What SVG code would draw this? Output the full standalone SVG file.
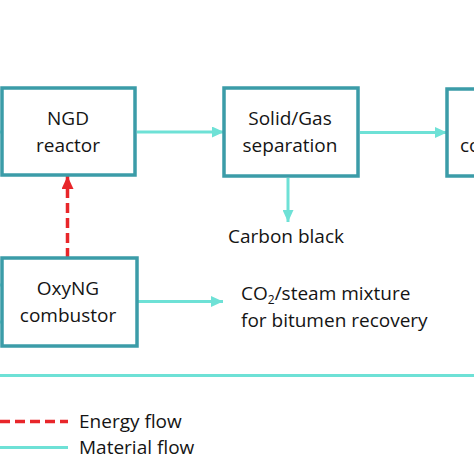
<svg xmlns="http://www.w3.org/2000/svg" width="474" height="474" viewBox="0 0 474 474">
<style>
.box{fill:#ffffff;stroke:#3b9ca8;stroke-width:3.5}
.mat{stroke:#6ee1d6;stroke-width:3;fill:none}
.eng{stroke:#e8262a;stroke-width:3.5;fill:none;stroke-dasharray:10 5}
text{font-family:"Open Sans","Noto Sans",sans-serif;font-size:19px;fill:#141414}
.c{text-anchor:middle}
</style>
<defs>
<marker id="am" markerUnits="userSpaceOnUse" markerWidth="12" markerHeight="11" refX="12" refY="5.5" orient="auto"><path d="M0,0 L12,5.5 L0,11 Z" fill="#6ee1d6"/></marker>
<marker id="ae" markerUnits="userSpaceOnUse" markerWidth="13" markerHeight="12" refX="13" refY="6" orient="auto"><path d="M0,0 L13,6 L0,12 Z" fill="#e8262a"/></marker>
</defs>
<rect width="474" height="474" fill="#ffffff"/>
<g id="connectors">
<line class="mat" x1="-6" y1="132" x2="2" y2="132"/>
<line class="mat" x1="-6" y1="285" x2="2" y2="285"/>
<line class="mat" x1="-6" y1="322" x2="2" y2="322"/>
<line class="mat" x1="137" y1="132" x2="224" y2="132" marker-end="url(#am)"/>
<line class="mat" x1="360" y1="132.5" x2="447" y2="132.5" marker-end="url(#am)"/>
<line class="mat" x1="288" y1="178" x2="288" y2="222" marker-end="url(#am)"/>
<line class="mat" x1="137" y1="301.5" x2="223" y2="301.5" marker-end="url(#am)"/>
<line class="eng" x1="67.5" y1="258" x2="67.5" y2="176" marker-end="url(#ae)"/>
<line class="mat" x1="0" y1="375.5" x2="474" y2="375.5"/>
</g>
<g id="ngd">
<rect class="box" x="2" y="88" width="133" height="87"/>
<text class="c" x="68" y="125">NGD</text>
<text class="c" x="68" y="152">reactor</text>
</g>
<g id="sep">
<rect class="box" x="224" y="88" width="134" height="88"/>
<text class="c" x="290" y="125">Solid/Gas</text>
<text class="c" x="290" y="152">separation</text>
</g>
<g id="right-box">
<rect class="box" x="447" y="89" width="60" height="87"/>
<text x="460" y="152">co</text>
</g>
<g id="carbon">
<text x="228" y="243">Carbon black</text>
</g>
<g id="oxyng">
<rect class="box" x="2" y="258" width="135" height="88"/>
<text class="c" x="68" y="295">OxyNG</text>
<text class="c" x="68" y="322">combustor</text>
</g>
<g id="co2">
<text x="241" y="300">CO<tspan font-size="12" dy="4">2</tspan><tspan dy="-4">/steam mixture</tspan></text>
<text x="241" y="327">for bitumen recovery</text>
</g>
<g id="legend">
<line class="eng" x1="0" y1="421.5" x2="68" y2="421.5"/>
<text x="79" y="428">Energy flow</text>
<line class="mat" x1="0" y1="447.5" x2="68" y2="447.5"/>
<text x="79" y="454">Material flow</text>
</g>
</svg>
